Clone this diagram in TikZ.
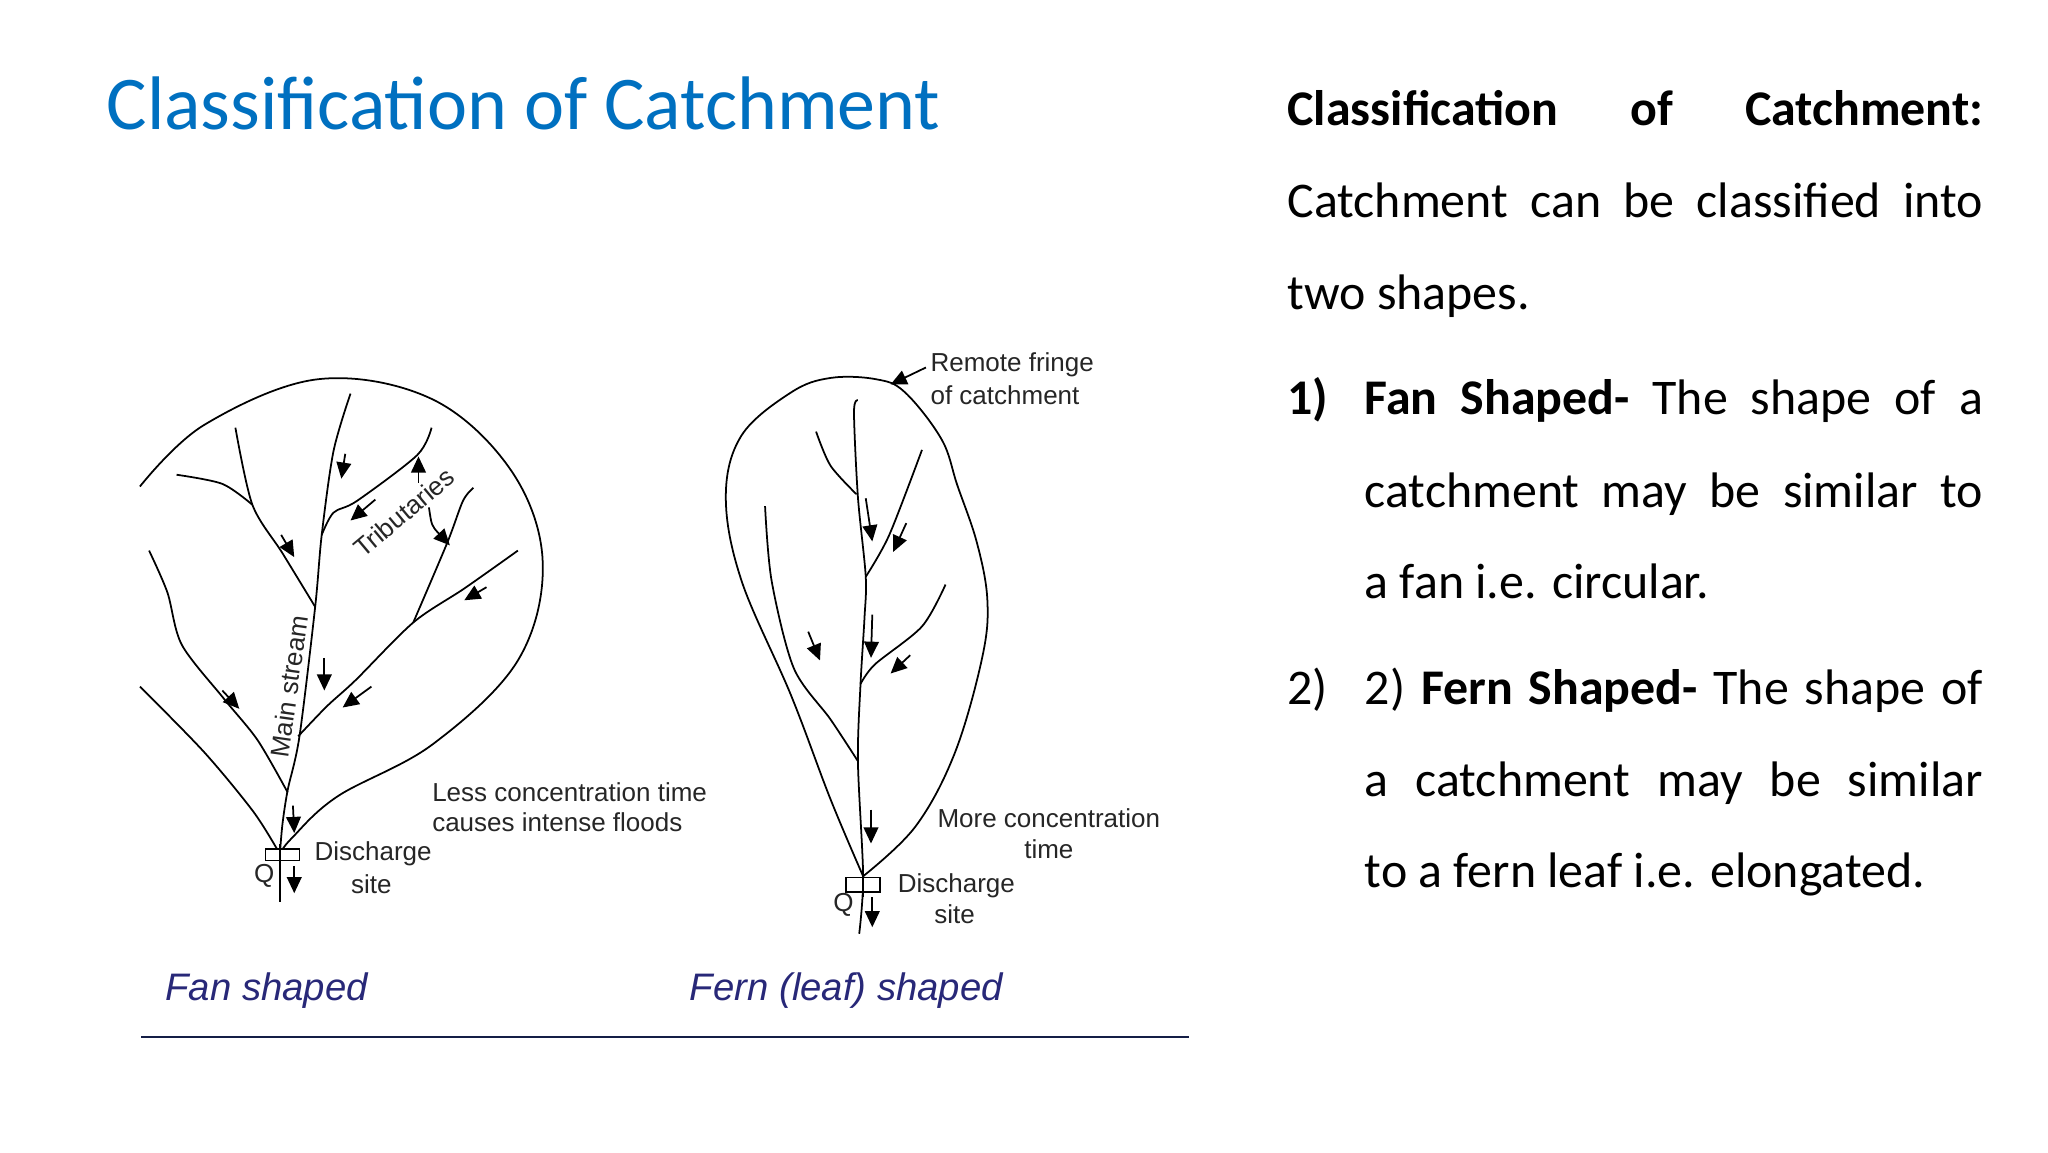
\documentclass[tikz,border=0pt]{standalone}
\usepackage{fontspec}
\setmainfont{Carlito}
\newfontfamily\diag{Liberation Sans}
\usetikzlibrary{arrows.meta}
\definecolor{titleblue}{RGB}{0,112,192}
\definecolor{capblue}{RGB}{40,40,120}
\definecolor{rulenavy}{RGB}{20,30,70}
\tikzset{
  riv/.style={line width=0.5pt, black},
  flow/.style={line width=0.5pt, -{Triangle[length=4.6pt,width=4.2pt]}},
  lab/.style={font=\diag\fontsize{7.4}{8.5}\selectfont, inner sep=0pt, text=black!85},
  body/.style={font=\fontsize{14.2}{17}\selectfont, inner sep=0pt, anchor=base west},
  captxt/.style={font=\diag\itshape\fontsize{10.9}{13}\selectfont, text=capblue, inner sep=0pt, anchor=base west}
}
\newcommand{\jline}[2]{\makebox[#1][s]{#2}}
\begin{document}
\begin{tikzpicture}[x=0.013078cm,y=-0.013078cm]
\useasboundingbox (0,0) rectangle (1566,881);
\fill[white] (0,0) rectangle (1566,881);
% title
\node[anchor=base west, inner sep=0pt, text=titleblue, font=\fontsize{21.6}{25}\selectfont] (title) at (81,99) {Classification of Catchment};
% right text
\node[body] (t1) at (984,96) {\jline{197.9pt}{\bfseries Classification of Catchment:}};
\node[body] (t2) at (984,166) {\jline{197.9pt}{Catchment can be classified into}};
\node[body] (t3) at (984,237) {two shapes.};
\node[body] (n1) at (984,317) {\textbf{1)}};
\node[body] (t4) at (1043,317) {\jline{175.9pt}{\textbf{Fan Shaped-} The shape of a}};
\node[body] (t5) at (1043,388) {\jline{175.9pt}{catchment may be similar to}};
\node[body] (t6) at (1043,458) {a fan i.e. circular.};
\node[body] (n2) at (984,539) {2)};
\node[body] (t7) at (1043,539) {\jline{175.9pt}{2) \textbf{Fern Shaped-} The shape of}};
\node[body] (t8) at (1043,609) {\jline{175.9pt}{a catchment may be similar}};
\node[body] (t9) at (1043,679) {to a fern leaf i.e. elongated.};

% ===== Fan shaped =====
\draw[riv] plot[smooth, tension=0.6] coordinates {(107,372) (156,325) (243,290) (330,305) (391,360) (415,430) (396,505) (331,569) (258,609) (223,641) (214,653)};
\draw[riv] plot[smooth] coordinates {(107,525) (156,575) (194,621) (214,653)};
\draw[riv] plot[smooth] coordinates {(214,653) (216,630) (220,604) (229,563) (241,464) (246,409) (255,345) (268,301)};
\draw[riv] plot[smooth] coordinates {(241,464) (216,423) (193,386) (180,327)};
\draw[riv] plot[smooth] coordinates {(193,386) (170,370) (135,363)};
\draw[riv] plot[smooth] coordinates {(246,409) (255,392) (273,383) (319,348) (330,327)};
\draw[riv] plot[smooth] coordinates {(228,563) (250,540) (272,520) (316,476) (355,450) (396,421)};
\draw[riv] plot[smooth] coordinates {(316,476) (342,415) (354,383) (362,373)};
\draw[riv] plot[smooth] coordinates {(114,421) (128,453) (139,493) (171,534) (197,566) (220,606)};
\draw[riv] (214,653) -- (214,690);
\draw[riv, fill=white] (203,649) rectangle (229,658);
\draw[riv] (214,645) -- (214,662);
\draw[flow] (264,347) -- (261,366);
\draw[flow] (320,369) -- (320,349);
\draw[flow] (287,382) -- (268,398);
\draw[flow] (328,388) .. controls (330,402) .. (344,417);
\draw[flow] (215,409) -- (225,426);
\draw[flow] (372,449) -- (355,459);
\draw[flow] (248,503) -- (248,528);
\draw[flow] (284,525) -- (262,541);
\draw[flow] (170,528) -- (183,542);
\draw[flow] (224,616) -- (225,637);
\draw[flow] (225,662) -- (225,683);
\node[lab] (fq) at (202,670) {Q};
\node[lab, anchor=west] (fd) at (240,653) {Discharge};
\node[lab] (fs) at (284,676) {site};
\node[lab, rotate=82] (fm) at (221,525) {Main stream};
\node[lab, rotate=40] (ft) at (309,392) {Tributaries};
\node[lab, anchor=west] (fl1) at (330,606) {Less concentration time};
\node[lab, anchor=west] (fl2) at (330,629) {causes intense floods};

% ===== Fern shaped =====
\draw[riv] plot[smooth, tension=0.6] coordinates {(660,670) (635,611) (605,532) (567,444) (555,380) (567,333) (605,300) (635,289) (670,290) (692,300) (720,336) (732,371) (747,415) (755,459) (751,503) (730,576) (700,632) (660,670)};
\draw[riv] plot[smooth] coordinates {(657,714) (660,670) (656,582) (658,523) (661,473) (662,441) (656,380) (653,315) (656,306)};
\draw[riv] plot[smooth] coordinates {(655,378) (635,356) (624,330)};
\draw[riv] plot[smooth] coordinates {(662,441) (680,409) (705,344)};
\draw[riv] plot[smooth] coordinates {(658,523) (669,508) (705,479) (723,447)};
\draw[riv] plot[smooth] coordinates {(585,387) (590,444) (607,511) (635,550) (656,582)};
\draw[riv, fill=white] (647,671) rectangle (673,682);
\draw[riv] (660,667) -- (660,686);
\draw[flow] (662,381) -- (667,414);
\draw[flow] (693,400) -- (683,422);
\draw[flow] (667,470) -- (666,503);
\draw[flow] (696,501) -- (681,515);
\draw[flow] (618,483) -- (627,505);
\draw[flow] (666,619) -- (666,645);
\draw[flow] (667,686) -- (667,709);
\draw[flow] (708,281) -- (681,294);
\node[lab] (eq) at (645,692) {Q};
\node[lab, anchor=west] (ed) at (686,677) {Discharge};
\node[lab] (es) at (730,699) {site};
\node[lab, anchor=west] (er1) at (711,279) {Remote fringe};
\node[lab, anchor=west] (er2) at (711,302) {of catchment};
\node[lab] (em1) at (802,626) {More concentration};
\node[lab] (em2) at (802,649) {time};

% captions
\node[captxt] (c1) at (126,765) {Fan shaped};
\node[captxt] (c2) at (527,765) {Fern (leaf) shaped};
\coordinate (r1) at (108,793);
\coordinate (r2) at (909,793);
\draw[rulenavy, line width=0.8pt] (r1) -- (r2);
\end{tikzpicture}
\end{document}
